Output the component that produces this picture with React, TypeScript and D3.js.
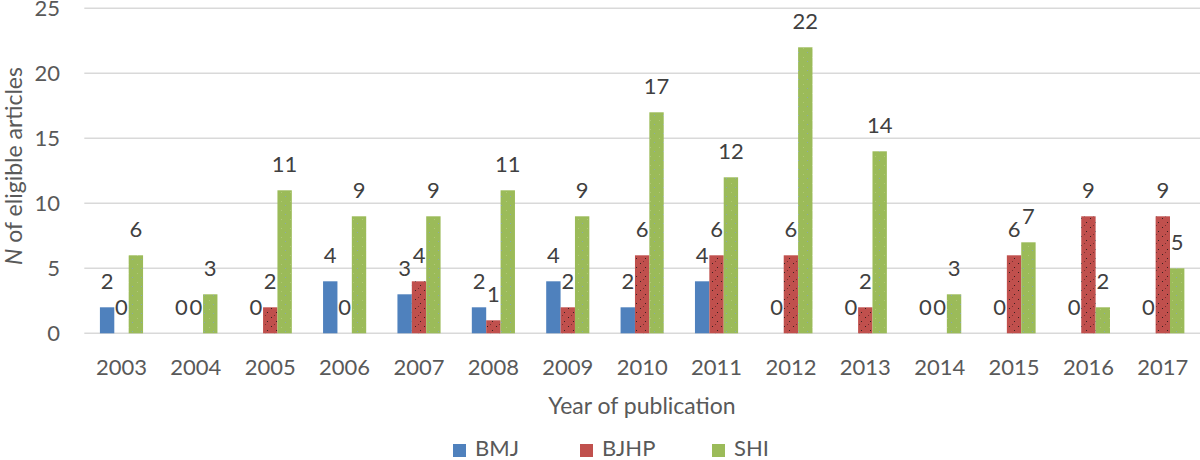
import React from "react";
import * as d3 from "d3";

const years = ["2003","2004","2005","2006","2007","2008","2009","2010","2011","2012","2013","2014","2015","2016","2017"];
const seriesNames = ["BMJ", "BJHP", "SHI"];
const bmj = [2,0,0,4,3,2,4,2,4,0,0,0,0,0,0];
const bjhp = [0,0,2,0,4,1,2,6,6,6,2,0,6,9,9];
const shi = [6,3,11,9,9,11,9,17,12,22,14,3,7,2,5];
const yTicks = [0,5,10,15,20,25];

const seriesValues = [bmj, bjhp, shi];
const colors = ["#4F81BD", "#C0504D", "#9BBB59"];
const fills = ["#4F81BD", "url(#patRed)", "url(#patGreen)"];

const W = 1200, H = 460;
const FONT = "Lato, 'Open Sans', sans-serif";

export default function App() {
  const x0 = d3.scaleBand<string>().domain(years).range([84.3, 1200]).paddingInner(0.42).paddingOuter(0.21);
  const x1 = d3.scaleBand<string>().domain(seriesNames).range([0, x0.bandwidth()]);
  const y = d3.scaleLinear().domain([0, 25]).range([333.3, 8.3]);

  const legendX = [453, 580, 712];

  return (
    <svg width={W} height={H} style={{ position: "absolute", left: 0, top: 0, background: "#fff" }} fontFamily={FONT}>
      <defs>
        <pattern id="patRed" width="9" height="9" patternUnits="userSpaceOnUse">
          <rect width="9" height="9" fill="#C0504D" />
          <rect x="1" y="2" width="1" height="1" fill="#3a2020" />
          <rect x="6" y="6" width="1" height="1" fill="#3a2020" />
          <rect x="4" y="0" width="1" height="1" fill="#7a3030" />
        </pattern>
        <pattern id="patGreen" width="9" height="9" patternUnits="userSpaceOnUse">
          <rect width="9" height="9" fill="#9BBB59" />
          <rect x="2" y="3" width="1" height="1" fill="#b0c878" />
          <rect x="6" y="7" width="1" height="1" fill="#8aa8b0" />
        </pattern>
      </defs>

      {yTicks.map((t) => (
        <g key={t}>
          <line x1={84.3} x2={1200} y1={y(t)} y2={y(t)} stroke="#D9D9D9" strokeWidth={1.6} />
          <text x={60} y={y(t)} dy="0.36em" textAnchor="end" fontSize={22} fill="#595959">{t}</text>
        </g>
      ))}

      {years.map((yr, i) => (
        <g key={yr}>
          {seriesNames.map((s, si) => {
            const v = seriesValues[si][i];
            const bx = (x0(yr) as number) + (x1(s) as number);
            const bw = x1.bandwidth();
            return (
              <g key={s}>
                {v > 0 && (
                  <rect x={bx} y={y(v)} width={bw} height={y(0) - y(v)} fill={fills[si]} />
                )}
                <text x={bx + bw / 2} y={y(v) - 26} dy="0.36em" textAnchor="middle" fontSize={22} fill="#404040">{v}</text>
              </g>
            );
          })}
          <text x={(x0(yr) as number) + x0.bandwidth() / 2} y={375} textAnchor="middle" fontSize={22} fill="#595959">{yr}</text>
        </g>
      ))}

      <text x={642} y={414} textAnchor="middle" fontSize={23} fill="#595959">Year of publication</text>
      <text transform="translate(22,166) rotate(-90)" textAnchor="middle" fontSize={23} fill="#595959">
        <tspan fontStyle="italic">N</tspan> of eligible articles
      </text>

      {seriesNames.map((s, si) => (
        <g key={s}>
          <rect x={legendX[si]} y={444} width={13} height={13} fill={colors[si]} />
          <text x={legendX[si] + 22} y={456} fontSize={22} fill="#595959">{s}</text>
        </g>
      ))}
    </svg>
  );
}
